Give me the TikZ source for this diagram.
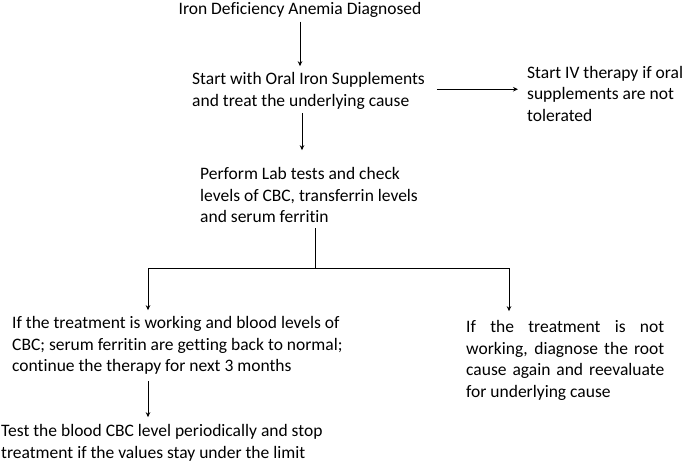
\documentclass[tikz,border=0pt]{standalone}
\usepackage{fontspec}
\setmainfont{Carlito}[Ligatures={NoCommon,NoContextual}]
\usepackage{tikz}
\usetikzlibrary{positioning,arrows.meta,calc}

\begin{document}
\begin{tikzpicture}[x=1pt, y=1pt,
  txt/.style={font=\fontsize{17.5}{21.5}\selectfont, align=left, inner sep=0pt, anchor=north west},
  arr/.style={-{Stealth[length=5pt,width=4.5pt]}, line width=0.8pt}]
  \useasboundingbox (0,0) rectangle (685,-465);

  \node[txt, anchor=base] (diag) at (300,-15) {Iron Deficiency Anemia Diagnosed};
  \node[txt] (oral) at (192,-72.2) {Start with Oral Iron Supplements\\and treat the underlying cause};
  \node[txt] (iv) at (527,-66) {Start IV therapy if oral\\supplements are not\\tolerated};
  \node[txt] (lab) at (200,-167.2) {Perform Lab tests and check\\levels of CBC, transferrin levels\\and serum ferritin};
  \node[txt] (work) at (12,-316.2) {If the treatment is working and blood levels of\\CBC; serum ferritin are getting back to normal;\\continue the therapy for next 3 months};
  \node[txt] (test) at (1,-424.2) {Test the blood CBC level periodically and stop\\treatment if the values stay under the limit};
  \node[txt] (notwork) at (466,-320.2) {\makebox[198pt][s]{If the treatment is not}\\\makebox[198pt][s]{working, diagnose the root}\\\makebox[198pt][s]{cause again and reevaluate}\\for underlying cause};

  % split points under the lab tests
  \coordinate (fork) at (315,-268);
  \coordinate (forkL) at (148,-268);
  \coordinate (forkR) at (509,-268);

  % main line
  \draw[arr, shorten <=3.5pt, shorten >=6pt] (diag.south) -- (diag.south |- oral.north);
  \draw[arr, shorten <=4pt, shorten >=17pt] ([xshift=2pt]diag.south |- oral.south) -- ([xshift=2pt]diag.south |- lab.north);
  \draw[arr, shorten <=12pt, shorten >=9pt] ([yshift=1.5pt]oral.east) -- ([yshift=1.5pt]oral.east -| iv.west);

  % branches
  \draw[line width=0.8pt, shorten <=5.5pt] (lab.south -| fork) -- (fork);
  \draw[arr, shorten >=6pt] (fork) -| (forkL |- work.north);
  \draw[arr, shorten >=9pt] (fork) -| (forkR |- notwork.north);
  \draw[arr, shorten <=6.5pt, shorten >=7pt] (forkL |- work.south) -- (forkL |- test.north);
\end{tikzpicture}
\end{document}
